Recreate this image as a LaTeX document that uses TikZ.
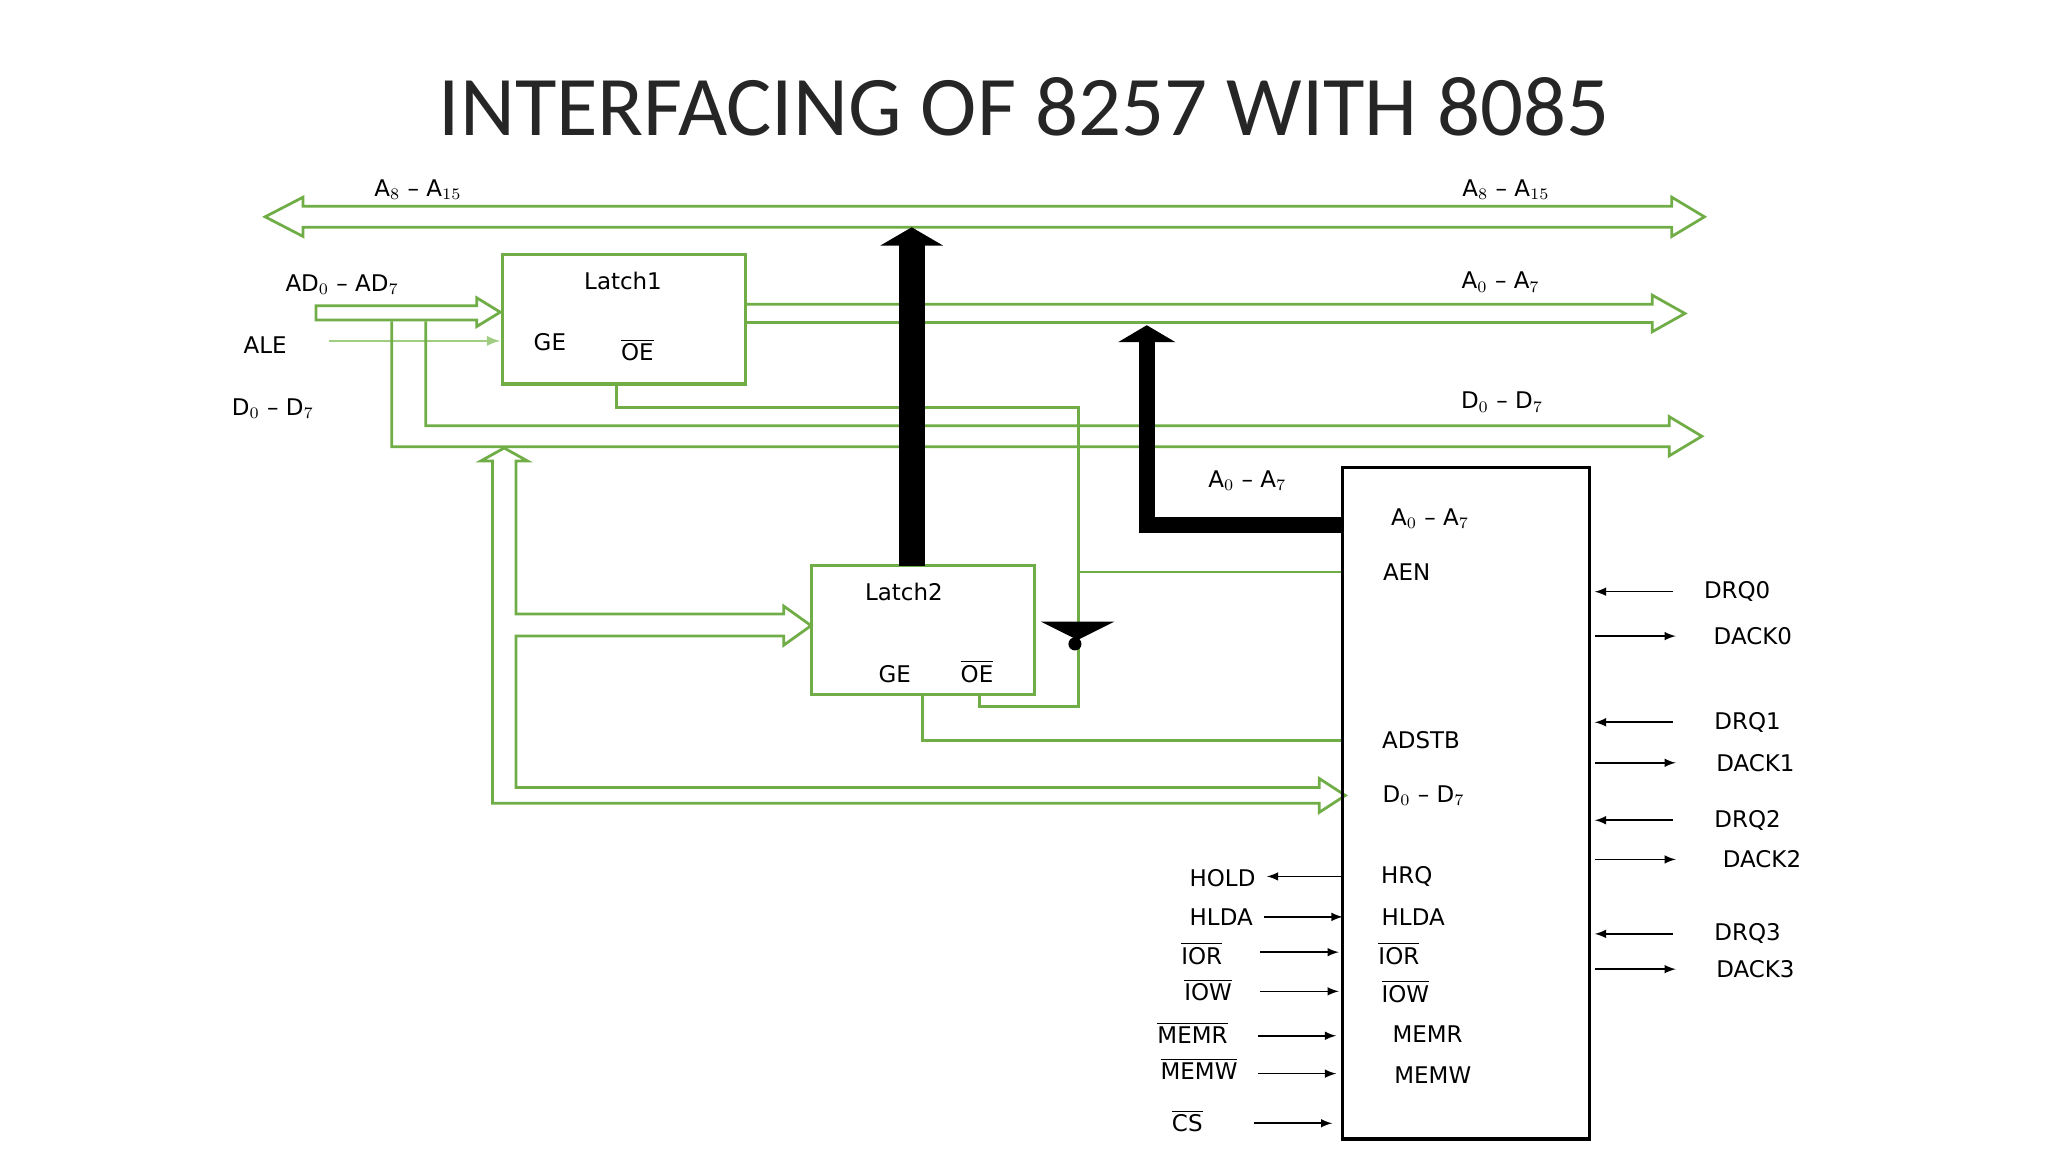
\documentclass[tikz,border=0pt]{standalone}
\usepackage{fontspec}
\setmainfont{DejaVu Sans}
\newfontfamily\titlefont{Carlito}
\definecolor{busg}{RGB}{112,173,71}
\definecolor{lightg}{RGB}{160,205,130}
\begin{document}
\begin{tikzpicture}[x=0.02cm,y=-0.02cm,
  bus/.style={draw=busg,line width=1.2pt,line join=miter},
  gline/.style={draw=busg,line width=1.2pt},
  box/.style={draw=busg,line width=1.4pt},
  lbl/.style={font=\fontsize{10}{12}\selectfont,inner sep=1pt},
  sig/.style={draw=black,line width=0.7pt,-latex},
  blk/.style={draw=black}]
\useasboundingbox (0,0) rectangle (1568,882);
\node[font=\titlefont\fontsize{37}{40}\selectfont,text=black!85] (title) at (784,82) {INTERFACING OF 8257 WITH 8085};
% A8-A15 bus
\draw[bus] (232,158)--(1280,158)--(1280,151)--(1305,166)--(1280,181)--(1280,174)--(232,174)--(232,181)--(203,166)--(232,151)--cycle;
\node[lbl] (a815l) at (320,145) {A$_8$ -- A$_{15}$};
\node[lbl] (a815r) at (1153,145) {A$_8$ -- A$_{15}$};
% Latch1
\draw[box] (385,195) rectangle (571,294);
\node[lbl] (l1) at (477,215) {Latch1};
\node[lbl] (ge1) at (421,262) {GE};
\node[lbl] (oe1) at (488,268) {$\overline{\mbox{OE}}$};
% AD0-AD7
\node[lbl] (adl) at (262,218) {AD$_0$ -- AD$_7$};
\draw[bus] (242,234)--(365,234)--(365,228)--(383,239)--(365,250)--(365,245)--(242,245)--cycle;
\node[lbl] (ale) at (203,264) {ALE};
\draw[draw=lightg,line width=1pt,-latex] (252,261)--(383,261);
\node[lbl] (dl) at (209,313) {D$_0$ -- D$_7$};
% A0-A7 bus
\draw[bus] (571,233)--(1265,233)--(1265,226)--(1290,240)--(1265,254)--(1265,247)--(571,247);
\node[lbl] (a07) at (1149,216) {A$_0$ -- A$_7$};
% D0-D7 bus
\draw[bus] (326,246)--(326,326)--(1278,326)--(1278,319)--(1303,334)--(1278,349)--(1278,342)--(300,342)--(300,246);
\node[lbl] (d07) at (1150,308) {D$_0$ -- D$_7$};
% vertical data bus
\draw[bus] (377,353)--(377,615)--(1010,615)--(1010,622)--(1030,609)--(1010,596)--(1010,603)--(395,603)--(395,487)--(600,487)--(600,494)--(621,479)--(600,464)--(600,470)--(395,470)--(395,353)--(404,353)--(386,343)--(368,353)--cycle;
% Latch2
\draw[box] (621,433) rectangle (792,532);
\node[lbl] (l2) at (692,453) {Latch2};
\node[lbl] (ge2) at (685,516) {GE};
\node[lbl] (oe2) at (748,514) {$\overline{\mbox{OE}}$};
% OE lines
\draw[gline] (472,294)--(472,312)--(826,312)--(826,541)--(750,541)--(750,532);
\draw[gline] (826,438)--(1028,438);
\draw[gline] (706,532)--(706,567)--(1028,567);
\fill[black] (797,476)--(853,476)--(825,490)--cycle;
\fill[black] (823,493) circle (5);
% black arrows
\draw[black,line width=0.4cm] (698,433)--(698,186);
\fill[black] (674,188)--(698,174)--(722,188)--cycle;
\draw[black,line width=0.24cm,line join=miter] (1028,402)--(878,402)--(878,260);
\fill[black] (856,262)--(878,249)--(900,262)--cycle;
\node[lbl] (a07b) at (955,368) {A$_0$ -- A$_7$};
% 8257
\draw[blk,line width=1.4pt] (1028,358) rectangle (1217,872);
\node[lbl] (p1) at (1095,397) {A$_0$ -- A$_7$};
\node[lbl] (p2) at (1077,438) {AEN};
\node[lbl] (p3) at (1088,567) {ADSTB};
\node[lbl] (p4) at (1090,609) {D$_0$ -- D$_7$};
\node[lbl] (p5) at (1077,671) {HRQ};
\node[lbl] (p6) at (1082,702) {HLDA};
\node[lbl] (p7) at (1071,730) {$\overline{\mbox{IOR}}$};
\node[lbl] (p8) at (1076,759) {$\overline{\mbox{IOW}}$};
\node[lbl] (p9) at (1093,792) {MEMR};
\node[lbl] (p10) at (1097,823) {MEMW};
% right side
\foreach \y/\t/\xx in {453/DRQ0/1330,553/DRQ1/1338,628/DRQ2/1338,715/DRQ3/1338}{
  \node[lbl] at (\xx,\y) {\t};
  \draw[sig] (1281,\y)--(1221,\y);}
\foreach \y/\t/\xx in {487/DACK0/1342,584/DACK1/1344,658/DACK2/1349,742/DACK3/1344}{
  \node[lbl] at (\xx,\y) {\t};
  \draw[sig] (1221,\y)--(1283,\y);}
% left side
\node[lbl] (hold) at (936,672) {HOLD};
\draw[sig] (1028,671)--(970,671);
\node[lbl] (hlda) at (935,702) {HLDA};
\draw[sig] (968,702)--(1028,702);
\node[lbl] (ior) at (920,730) {$\overline{\mbox{IOR}}$};
\draw[sig] (965,729)--(1025,729);
\node[lbl] (iow) at (925,758) {$\overline{\mbox{IOW}}$};
\draw[sig] (965,759)--(1025,759);
\node[lbl] (memr) at (913,791) {$\overline{\mbox{MEMR}}$};
\draw[sig] (963,793)--(1023,793);
\node[lbl] (memw) at (918,818) {$\overline{\mbox{MEMW}}$};
\draw[sig] (963,822)--(1023,822);
\node[lbl] (cs) at (909,858) {$\overline{\mbox{CS}}$};
\draw[sig] (960,860)--(1020,860);
\end{tikzpicture}
\end{document}
